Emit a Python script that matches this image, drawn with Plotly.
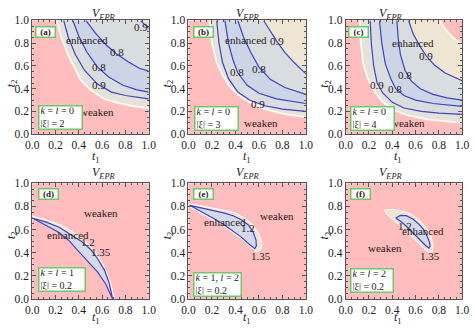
import plotly.graph_objects as go

# ---------------- data ----------------
T_RANGE = [0.0, 1.0]
TICK_VALS = [0.0, 0.2, 0.4, 0.6, 0.8, 1.0]
TICK_TEXT = ["0.0", "0.2", "0.4", "0.6", "0.8", "1.0"]
MINOR_VALS = [i * 0.05 for i in range(21)]

PANEL_TAGS = ["(a)", "(b)", "(c)", "(d)", "(e)", "(f)"]
PANEL_PARAMS = [
    "<i>k</i> = <i>l</i> = 0<br>|ξ| = 2",
    "<i>k</i> = <i>l</i> = 0<br>|ξ| = 3",
    "<i>k</i> = <i>l</i> = 0<br>|ξ| = 4",
    "<i>k</i> = <i>l</i> = 1<br>|ξ| = 0.2",
    "<i>k</i> = 1, <i>l</i> = 2<br>|ξ| = 0.2",
    "<i>k</i> = <i>l</i> = 2<br>|ξ| = 0.2",
]

# panels a-c : contour curves (t1, t2), level 1 edge, 0.9 and 0.8 levels
A_EDGE = [(0.21, 1.0), (0.25, 0.85), (0.31, 0.69), (0.37, 0.575), (0.42, 0.47), (0.50, 0.39),
          (0.62, 0.31), (0.75, 0.27), (0.88, 0.245), (1.0, 0.23)]
A_L09 = [(0.27, 1.0), (0.31, 0.85), (0.37, 0.70), (0.45, 0.56), (0.56, 0.44), (0.68, 0.37),
         (0.80, 0.34), (1.0, 0.31)]
A_L08 = [(0.35, 1.0), (0.40, 0.86), (0.47, 0.72), (0.56, 0.59), (0.66, 0.50), (0.78, 0.43),
         (0.90, 0.39), (1.0, 0.37)]
A_U08 = [(0.46, 1.0), (0.55, 0.88), (0.64, 0.78), (0.72, 0.71), (0.82, 0.64), (0.92, 0.58),
         (1.0, 0.555)]
A_U09 = [(0.93, 1.0), (0.97, 0.96), (1.0, 0.93)]

B_EDGE = [(0.18, 1.0), (0.20, 0.80), (0.24, 0.63), (0.29, 0.52), (0.35, 0.42), (0.42, 0.35),
          (0.52, 0.28), (0.65, 0.22), (0.80, 0.18), (1.0, 0.15)]
B_L09 = [(0.24, 1.0), (0.26, 0.80), (0.29, 0.63), (0.34, 0.49), (0.42, 0.37), (0.52, 0.30),
         (0.65, 0.25), (0.80, 0.22), (1.0, 0.20)]
B_L08 = [(0.31, 1.0), (0.34, 0.80), (0.38, 0.65), (0.42, 0.54), (0.50, 0.43), (0.60, 0.36),
         (0.75, 0.31), (1.0, 0.27)]
B_U08 = [(0.42, 1.0), (0.47, 0.85), (0.53, 0.72), (0.60, 0.59), (0.70, 0.48), (0.82, 0.41),
         (1.0, 0.35)]
B_U09 = [(0.64, 1.0), (0.70, 0.90), (0.75, 0.82), (0.82, 0.72), (0.90, 0.63), (1.0, 0.53)]

C_EDGE = [(0.12, 1.0), (0.13, 0.80), (0.15, 0.62), (0.19, 0.49), (0.25, 0.37), (0.32, 0.28),
          (0.42, 0.21), (0.52, 0.17), (0.70, 0.13), (1.0, 0.10)]
C_L09 = [(0.21, 1.0), (0.22, 0.80), (0.24, 0.60), (0.27, 0.45), (0.32, 0.36), (0.40, 0.28),
         (0.50, 0.23), (0.65, 0.20), (0.80, 0.185), (1.0, 0.175)]
C_L08 = [(0.29, 1.0), (0.31, 0.80), (0.34, 0.62), (0.39, 0.48), (0.43, 0.40), (0.50, 0.34),
         (0.60, 0.30), (0.75, 0.27), (1.0, 0.245)]
C_U08 = [(0.44, 1.0), (0.45, 0.85), (0.47, 0.70), (0.51, 0.56), (0.56, 0.47), (0.64, 0.40),
         (0.75, 0.35), (0.87, 0.32), (1.0, 0.30)]
C_U09 = [(0.54, 1.0), (0.58, 0.88), (0.64, 0.77), (0.69, 0.69), (0.76, 0.61), (0.85, 0.54),
         (1.0, 0.47)]
C_CORNER = [(0.81, 1.0), (0.86, 0.92), (0.92, 0.85), (1.0, 0.79)]

# panels d-f : enhanced lens (upper / lower 1.2-1.35 contour) and level-1 halo
D_UP = [(0.0, 0.70), (0.12, 0.665), (0.23, 0.62), (0.33, 0.56), (0.42, 0.50), (0.50, 0.43),
        (0.56, 0.35), (0.62, 0.25), (0.66, 0.14), (0.69, 0.0)]
D_LO = [(0.0, 0.70), (0.12, 0.635), (0.23, 0.575), (0.32, 0.50), (0.39, 0.42), (0.47, 0.33),
        (0.56, 0.235), (0.63, 0.13), (0.69, 0.0)]
D_HALO = [(0.0, 0.715), (0.12, 0.685), (0.25, 0.637), (0.37, 0.567), (0.47, 0.487), (0.55, 0.397),
          (0.62, 0.277), (0.67, 0.147), (0.705, 0.0), (0.69, 0.0), (0.63, 0.13), (0.56, 0.235),
          (0.47, 0.33), (0.39, 0.42), (0.32, 0.50), (0.23, 0.575), (0.12, 0.635), (0.0, 0.70)]

E_UP = [(0.01, 0.81), (0.10, 0.79), (0.20, 0.765), (0.30, 0.745), (0.38, 0.72), (0.45, 0.685),
        (0.51, 0.64), (0.55, 0.58), (0.575, 0.51), (0.578, 0.46), (0.565, 0.435)]
E_LO = [(0.01, 0.81), (0.10, 0.76), (0.20, 0.705), (0.30, 0.645), (0.38, 0.59), (0.45, 0.535),
        (0.51, 0.48), (0.545, 0.45), (0.565, 0.435)]
E_HALO = [(0.0, 0.825), (0.10, 0.808), (0.20, 0.787), (0.30, 0.768), (0.40, 0.742), (0.48, 0.70),
          (0.55, 0.64), (0.60, 0.56), (0.625, 0.48), (0.615, 0.42), (0.58, 0.41), (0.53, 0.45),
          (0.46, 0.515), (0.38, 0.575), (0.30, 0.63), (0.20, 0.69), (0.10, 0.748), (0.0, 0.805)]

F_UP = [(0.43, 0.70), (0.47, 0.722), (0.52, 0.72), (0.58, 0.69), (0.63, 0.645), (0.67, 0.60),
        (0.70, 0.54), (0.72, 0.49), (0.725, 0.455), (0.715, 0.44)]
F_LO = [(0.43, 0.70), (0.48, 0.665), (0.53, 0.62), (0.58, 0.572), (0.62, 0.532), (0.66, 0.49),
        (0.69, 0.458), (0.715, 0.44)]
F_HALO = [(0.33, 0.77), (0.40, 0.775), (0.48, 0.762), (0.56, 0.735), (0.63, 0.685), (0.69, 0.62),
          (0.73, 0.55), (0.75, 0.47), (0.745, 0.41), (0.72, 0.395), (0.68, 0.43), (0.62, 0.49),
          (0.55, 0.56), (0.48, 0.625), (0.41, 0.685), (0.35, 0.735), (0.33, 0.77)]

# text labels inside panels: (text, t1, t2)
PANEL_LABELS = [
    [("enhanced", 0.47, 0.83), ("weaken", 0.56, 0.195), ("0.9", 0.935, 0.94),
     ("0.8", 0.73, 0.72), ("0.8", 0.575, 0.59), ("0.9", 0.575, 0.43)],
    [("enhanced", 0.49, 0.83), ("weaken", 0.62, 0.10), ("0.9", 0.755, 0.815),
     ("0.8", 0.60, 0.575), ("0.8", 0.41, 0.55), ("0.9", 0.59, 0.265)],
    [("enhanced", 0.58, 0.80), ("weaken", 0.535, 0.095), ("0.9", 0.69, 0.69),
     ("0.8", 0.51, 0.52), ("0.8", 0.425, 0.40), ("0.9", 0.27, 0.435)],
    [("weaken", 0.59, 0.74), ("enhanced", 0.31, 0.555), ("1.2", 0.48, 0.49), ("1.35", 0.59, 0.41)],
    [("weaken", 0.75, 0.72), ("enhanced", 0.31, 0.665), ("1.2", 0.505, 0.61), ("1.35", 0.62, 0.37)],
    [("weaken", 0.34, 0.44), ("enhanced", 0.66, 0.585), ("1.2", 0.51, 0.63), ("1.35", 0.72, 0.37)],
]
TAG_POS = [(0.025, 0.95), (0.04, 0.95), (0.02, 0.95), (0.05, 0.96), (0.04, 0.96), (0.036, 0.96)]
PARAM_POS = [(0.05, 0.035), (0.045, 0.03), (0.035, 0.03), (0.047, 0.06), (0.04, 0.02), (0.036, 0.05)]
PARAM_W = [40, 40, 40, 43, 44, 39]

# ---------------- style ----------------
PINK = "#FFBDBD"
BEIGE = "#E5E3D9"
TAN = "#EEE6D3"
BAND = "#D8DDE0"
CORE = "#CAD5E5"
LENS = "#D2DBE7"
HALO = "#EDE5D4"
BLUE = "#4040C8"
EDGE_COL = "#FFFCF2"
GREEN = "#66CC66"
FONT = "Liberation Serif"

X_DOM = [[26 / 474, 146 / 474], [187 / 474, 308 / 474], [349 / 474, 469 / 474]]
Y_DOM = [[1 - 133 / 331, 1 - 15 / 331], [1 - 304 / 331, 1 - 184 / 331]]
TITLE_PX = [8, 173]
XLABEL_PX = [157, 324]

fig = go.Figure()


def ax_ids(i):
    return ("x" if i == 0 else f"x{i+1}"), ("y" if i == 0 else f"y{i+1}")


def poly(i, pts, color):
    xa, ya = ax_ids(i)
    fig.add_trace(go.Scatter(x=[p[0] for p in pts], y=[p[1] for p in pts], mode="lines",
                             fill="toself", fillcolor=color, line=dict(width=0),
                             hoverinfo="skip", showlegend=False, xaxis=xa, yaxis=ya))


def curve(i, pts, color, width):
    xa, ya = ax_ids(i)
    fig.add_trace(go.Scatter(x=[p[0] for p in pts], y=[p[1] for p in pts], mode="lines",
                             line=dict(color=color, width=width), hoverinfo="skip",
                             showlegend=False, xaxis=xa, yaxis=ya))


CORNER = [(T_RANGE[1], T_RANGE[1])]

# panels a-c
for i, (edge, l09, l08, u08, u09) in enumerate([
        (A_EDGE, A_L09, A_L08, A_U08, A_U09),
        (B_EDGE, B_L09, B_L08, B_U08, B_U09),
        (C_EDGE, C_L09, C_L08, C_U08, C_U09)]):
    poly(i, edge + CORNER, BEIGE)
    poly(i, l09 + u09[::-1], BAND)
    poly(i, l08 + u08[::-1], CORE)
    if i > 0:
        poly(i, u09 + CORNER, TAN)
    if i == 2:
        poly(i, C_CORNER + CORNER, PINK)
        curve(i, C_CORNER, EDGE_COL, 1.6)
    curve(i, edge, EDGE_COL, 1.8)
    for c in (l09, l08, u08, u09):
        curve(i, c, BLUE, 1.2)

# panels d-f
for i, (up, lo, halo) in zip([3, 4, 5], [(D_UP, D_LO, D_HALO), (E_UP, E_LO, E_HALO),
                                          (F_UP, F_LO, F_HALO)]):
    poly(i, halo, HALO)
    curve(i, halo, EDGE_COL, 1.0)
    poly(i, up + lo[::-1], LENS)
    curve(i, up + lo[::-1], BLUE, 1.2)

axis_style = dict(range=T_RANGE, tickmode="array", tickvals=TICK_VALS, ticktext=TICK_TEXT,
                  ticks="inside", ticklen=4, tickcolor="#555", tickwidth=1,
                  showline=True, linecolor="#555", linewidth=1, mirror="ticks",
                  showgrid=False, zeroline=False,
                  tickfont=dict(family=FONT, size=11.5, color="#222"),
                  minor=dict(ticks="inside", ticklen=2, tickcolor="#555",
                             tickvals=MINOR_VALS, showgrid=False))

layout = dict(width=474, height=331, margin=dict(l=0, r=0, t=0, b=0),
              paper_bgcolor="white", plot_bgcolor=PINK, showlegend=False)
annotations = []
for i in range(6):
    r, c = divmod(i, 3)
    xa, ya = ax_ids(i)
    xkey = "xaxis" if i == 0 else f"xaxis{i+1}"
    ykey = "yaxis" if i == 0 else f"yaxis{i+1}"
    layout[xkey] = dict(axis_style, domain=X_DOM[c], anchor=ya)
    layout[ykey] = dict(axis_style, domain=Y_DOM[r], anchor=xa)

    for txt, tx, ty in PANEL_LABELS[i]:
        annotations.append(dict(x=tx, y=ty, xref=xa, yref=ya, text=txt, showarrow=False,
                                font=dict(family=FONT, size=11, color="#2a1a1a")))
    annotations.append(dict(x=TAG_POS[i][0], y=TAG_POS[i][1], xref=xa, yref=ya,
                            xanchor="left", yanchor="top", text="<b>" + PANEL_TAGS[i] + "</b>",
                            showarrow=False, bgcolor="white", bordercolor=GREEN, borderwidth=1.5,
                            borderpad=0, width=18, height=9,
                            font=dict(family=FONT, size=9, color="#222")))
    annotations.append(dict(x=PARAM_POS[i][0], y=PARAM_POS[i][1], xref=xa, yref=ya,
                            xanchor="left", yanchor="bottom", text=PANEL_PARAMS[i], align="left",
                            showarrow=False, bgcolor="white", bordercolor=GREEN, borderwidth=1.5,
                            borderpad=1, width=PARAM_W[i], height=20,
                            font=dict(family=FONT, size=10, color="#222")))
    # titles and axis labels
    xc = (X_DOM[c][0] + X_DOM[c][1]) / 2
    annotations.append(dict(x=xc, y=1 - TITLE_PX[r] / 331, xref="paper", yref="paper",
                            yanchor="middle", text="<i>V</i><sub><i>EPR</i></sub>",
                            showarrow=False, font=dict(family=FONT, size=12, color="#222")))
    annotations.append(dict(x=xc, y=1 - XLABEL_PX[r] / 331, xref="paper", yref="paper",
                            yanchor="middle", text="<i>t</i><sub>1</sub>", showarrow=False,
                            font=dict(family=FONT, size=12, color="#222")))
    annotations.append(dict(x=X_DOM[c][0] - 21 / 474, y=(Y_DOM[r][0] + Y_DOM[r][1]) / 2,
                            xref="paper", yref="paper", xanchor="center",
                            text="<i>t</i><sub>2</sub>", showarrow=False, textangle=-90,
                            font=dict(family=FONT, size=12, color="#222")))

layout["annotations"] = annotations
fig.update_layout(**layout)
fig.write_html("out.html")
